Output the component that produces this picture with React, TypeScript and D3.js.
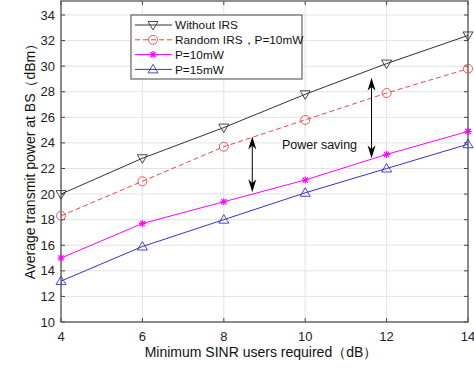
import React from "react";
import * as d3 from "d3";

const xValues = [4, 6, 8, 10, 12, 14];
const withoutIRS = [20.0, 22.8, 25.2, 27.8, 30.2, 32.4];
const randomIRS = [18.3, 21.0, 23.7, 25.8, 27.9, 29.8];
const p10 = [15.0, 17.7, 19.4, 21.1, 23.1, 24.9];
const p15 = [13.2, 15.9, 18.0, 20.1, 22.0, 23.9];
const xTicks = [4, 6, 8, 10, 12, 14];
const yTicks = [10, 12, 14, 16, 18, 20, 22, 24, 26, 28, 30, 32, 34];
const legendLabels = ["Without IRS", "Random IRS，P=10mW", "P=10mW", "P=15mW"];

const W = 474, H = 383;
const L = 61, R = 468, T = 1, B = 322;
const font = "'Liberation Sans', Arial, sans-serif";

const x = d3.scaleLinear().domain([4, 14]).range([L, R]);
const y = d3.scaleLinear().domain([10, 34]).range([B, 15]);

type S = { data: number[]; color: string; dash?: string; marker: string };
const series: S[] = [
  { data: withoutIRS, color: "#333333", marker: "down" },
  { data: randomIRS, color: "#e8474a", dash: "5,3", marker: "circle" },
  { data: p10, color: "#f0f", marker: "star" },
  { data: p15, color: "#3434c8", marker: "up" },
];

function Marker({ type, cx, cy, color }: { type: string; cx: number; cy: number; color: string }) {
  const r = 5;
  if (type === "circle") return <circle cx={cx} cy={cy} r={4.5} fill="none" stroke={color} strokeWidth={0.9} />;
  if (type === "down")
    return <path d={`M${cx - r},${cy - 3.5}L${cx + r},${cy - 3.5}L${cx},${cy + 5}Z`} fill="none" stroke={color} strokeWidth={0.9} />;
  if (type === "up")
    return <path d={`M${cx - r},${cy + 3.5}L${cx + r},${cy + 3.5}L${cx},${cy - 5}Z`} fill="none" stroke={color} strokeWidth={0.9} />;
  const s = 3.5;
  return (
    <g stroke={color} strokeWidth={1.2}>
      <line x1={cx - s} y1={cy} x2={cx + s} y2={cy} />
      <line x1={cx} y1={cy - s} x2={cx} y2={cy + s} />
      <line x1={cx - s * 0.75} y1={cy - s * 0.75} x2={cx + s * 0.75} y2={cy + s * 0.75} />
      <line x1={cx - s * 0.75} y1={cy + s * 0.75} x2={cx + s * 0.75} y2={cy - s * 0.75} />
    </g>
  );
}

function Arrow({ xv, y1v, y2v }: { xv: number; y1v: number; y2v: number }) {
  const cx = x(xv);
  const ya = y(y1v), yb = y(y2v);
  const head = (tip: number, dir: number) =>
    `M${cx},${tip}L${cx - 4},${tip + dir * 13}L${cx},${tip + dir * 9}L${cx + 4},${tip + dir * 13}Z`;
  return (
    <g>
      <line x1={cx} y1={ya + 8} x2={cx} y2={yb - 8} stroke="#000" strokeWidth={1} />
      <path d={head(ya, 1)} fill="#000" />
      <path d={head(yb, -1)} fill="#000" />
    </g>
  );
}

export default function App() {
  const line = d3.line<number>().x((_, i) => x(xValues[i])).y((d) => y(d));
  return (
    <svg width={W} height={H} style={{ position: "absolute", left: 0, top: 0, background: "#fff" }} fontFamily={font}>
      <rect x={0} y={0} width={W} height={H} fill="#fff" />
      {xTicks.map((t) => (
        <line key={"gx" + t} x1={x(t)} x2={x(t)} y1={T} y2={B} stroke="#e3e3e3" strokeWidth={1} />
      ))}
      {yTicks.map((t) => (
        <line key={"gy" + t} x1={L} x2={R} y1={y(t)} y2={y(t)} stroke="#e3e3e3" strokeWidth={1} />
      ))}
      {xTicks.map((t) => (
        <g key={"tx" + t}>
          <line x1={x(t)} x2={x(t)} y1={B} y2={B - 4} stroke="#444" />
          <line x1={x(t)} x2={x(t)} y1={T} y2={T + 4} stroke="#444" />
          <text x={x(t)} y={341} fontSize={13} textAnchor="middle" fill="#222">{t}</text>
        </g>
      ))}
      {yTicks.map((t) => (
        <g key={"ty" + t}>
          <line x1={L} x2={L + 4} y1={y(t)} y2={y(t)} stroke="#444" />
          <line x1={R} x2={R - 4} y1={y(t)} y2={y(t)} stroke="#444" />
          <text x={55} y={y(t) + 4.5} fontSize={13} textAnchor="end" fill="#222">{t}</text>
        </g>
      ))}
      <rect x={L} y={T} width={R - L} height={B - T} fill="none" stroke="#555" strokeWidth={1.3} />
      {series.map((s, i) => (
        <g key={"s" + i}>
          <path d={line(s.data) || ""} fill="none" stroke={s.color} strokeWidth={1} strokeDasharray={s.dash} />
          {s.data.map((v, j) => (
            <Marker key={j} type={s.marker} cx={x(xValues[j])} cy={y(v)} color={s.color} />
          ))}
        </g>
      ))}
      <Arrow xv={8.7} y1v={24.5} y2v={20.15} />
      <Arrow xv={11.63} y1v={29.1} y2v={22.8} />
      <text x={282} y={149} fontSize={12.5} fill="#111">Power saving</text>
      <g>
        <rect x={131} y={15} width={171} height={64} fill="#fff" stroke="#444" strokeWidth={1} />
        {series.map((s, i) => {
          const ly = 25 + i * 14.8;
          return (
            <g key={"lg" + i}>
              <line x1={135} x2={172} y1={ly} y2={ly} stroke={s.color} strokeWidth={1} strokeDasharray={s.dash} />
              <Marker type={s.marker} cx={153} cy={ly} color={s.color} />
              <text x={175} y={ly + 4.3} fontSize={11.8} fill="#111">{legendLabels[i]}</text>
            </g>
          );
        })}
      </g>
      <text x={261} y={357} fontSize={14} textAnchor="middle" fill="#111">Minimum SINR users required（dB）</text>
      <text transform={`translate(35,158) rotate(-90)`} fontSize={14} textAnchor="middle" fill="#111">
        Average transmit power at BS（dBm）
      </text>
    </svg>
  );
}
